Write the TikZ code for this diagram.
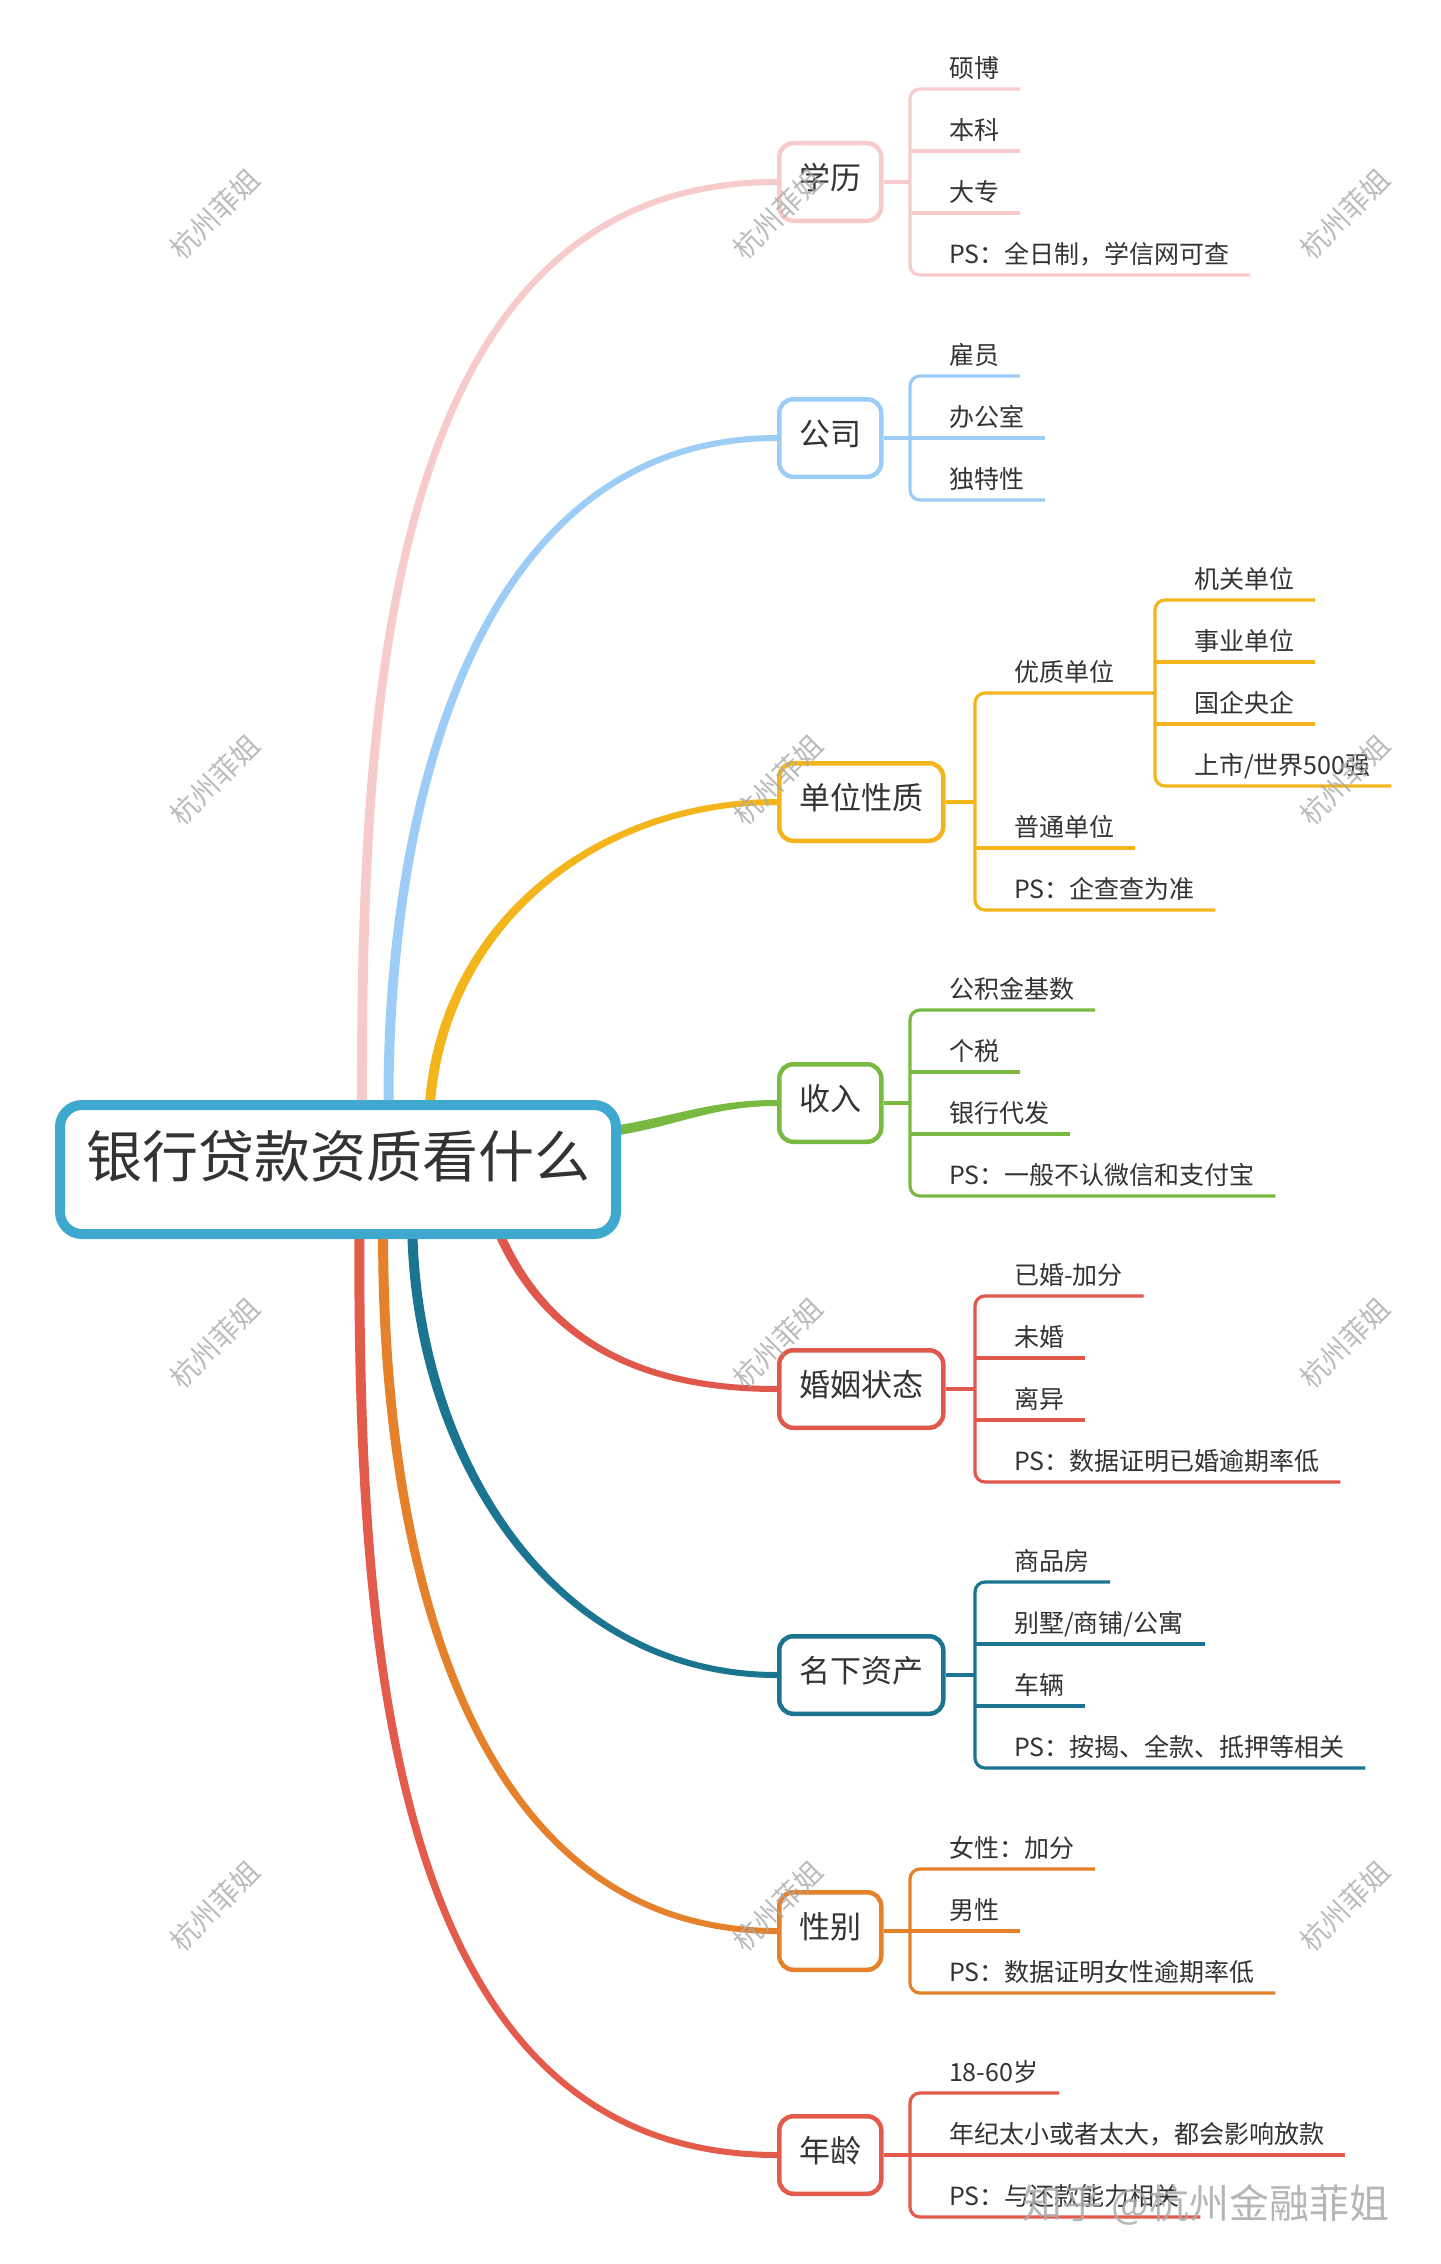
\documentclass[tikz,border=0pt]{standalone}
\usepackage{fontspec}
\setmainfont{Noto Sans CJK SC}
\definecolor{txt}{HTML}{333333}
\definecolor{rootc}{HTML}{3FA8CE}
\definecolor{c1}{HTML}{F8CBCB}
\definecolor{c2}{HTML}{9DCDF6}
\definecolor{c3}{HTML}{F4B41C}
\definecolor{c4}{HTML}{78B942}
\definecolor{c5}{HTML}{E0584B}
\definecolor{c6}{HTML}{1B7590}
\definecolor{c7}{HTML}{E5802B}
\definecolor{c8}{HTML}{E35B4B}
\definecolor{wm}{HTML}{AAAAAA}

\begin{document}
\begin{tikzpicture}[x=0.5pt, y=0.5pt,
    every node/.style={text=txt},
    root/.style={draw=rootc, line width=5pt, rounded corners=11pt, fill=white, minimum width=278pt, minimum height=64.5pt, inner sep=0pt, font=\fontsize{28}{34}\selectfont, text height=0.88em, text depth=0.12em},
    topic/.style={draw=#1, line width=2.25pt, rounded corners=7pt, fill=white, inner xsep=10pt, inner ysep=0pt, minimum height=38.75pt, font=\fontsize{15.5}{19}\selectfont, text height=0.88em, text depth=0.12em, anchor=west},
    leaf/.style={anchor=south west, inner xsep=10.5pt, inner ysep=4.5pt, outer sep=0pt, font=\fontsize{12.5}{15}\selectfont, text height=0.88em, text depth=0.12em},
    limb/.style={fill=#1},
    twig/.style={draw=#1, line width=1.6pt, rounded corners=5pt},
    wmark/.style={text=wm, rotate=45, font=\fontsize{14}{16}\selectfont, opacity=0.8}]
    \path[use as bounding box, fill=white] (0,0) rectangle (1440,-2264);

    \node[root] (root) at (338,-1169.5) {银行贷款资质看什么};

    \node[topic=c1] (edu) at (777,-182) {学历};
    \node[topic=c2] (firm) at (777,-438) {公司};
    \node[topic=c3] (unit) at (777,-802) {单位性质};
    \node[topic=c4] (pay) at (777,-1103) {收入};
    \node[topic=c5] (marry) at (777,-1389) {婚姻状态};
    \node[topic=c6] (asset) at (777,-1675) {名下资产};
    \node[topic=c7] (sex) at (777,-1931) {性别};
    \node[topic=c8] (age) at (777,-2155) {年龄};

    \fill[limb=c1] ([xshift=-2.5pt]root.71.7) to[out=90,in=180] ([yshift=1.5pt]edu.west) -- ([yshift=-1.5pt]edu.west) to[out=180,in=90] ([xshift=2.5pt]root.71.7) -- cycle;
    \fill[limb=c2] ([xshift=-2.5pt]root.54.8) to[out=90,in=180] ([yshift=1.5pt]firm.west) -- ([yshift=-1.5pt]firm.west) to[out=180,in=90] ([xshift=2.5pt]root.54.8) -- cycle;
    \fill[limb=c3] ([xshift=-2.5pt]root.37.4) to[out=85,in=180] ([yshift=1.5pt]unit.west) -- ([yshift=-1.5pt]unit.west) to[out=180,in=85] ([xshift=2.5pt]root.37.4) -- cycle;
    \fill[limb=c4] ([yshift=2.5pt]root.8) to[out=10,in=180] ([yshift=1.5pt]pay.west) -- ([yshift=-1.5pt]pay.west) to[out=180,in=10] ([yshift=-2.5pt]root.8) -- cycle;
    \fill[limb=c5] ([xshift=2.5pt]root.-23.5) to[out=-65,in=180] ([yshift=1.5pt]marry.west) -- ([yshift=-1.5pt]marry.west) to[out=180,in=-65] ([xshift=-2.5pt]root.-23.5) -- cycle;
    \fill[limb=c6] ([xshift=2.5pt]root.-43.2) to[out=-88,in=180] ([yshift=1.5pt]asset.west) -- ([yshift=-1.5pt]asset.west) to[out=180,in=-88] ([xshift=-2.5pt]root.-43.2) -- cycle;
    \fill[limb=c7] ([xshift=2.5pt]root.-57.1) to[out=-90,in=180] ([yshift=1.5pt]sex.west) -- ([yshift=-1.5pt]sex.west) to[out=180,in=-90] ([xshift=-2.5pt]root.-57.1) -- cycle;
    \fill[limb=c8] ([xshift=2.5pt]root.-73.9) to[out=-90,in=180] ([yshift=1.5pt]age.west) -- ([yshift=-1.5pt]age.west) to[out=180,in=-90] ([xshift=-2.5pt]root.-73.9) -- cycle;

    \coordinate (s1) at (910,-182);
    \node[leaf] (e1) at (928,-89) {硕博};
    \node[leaf] (e2) at (928,-151) {本科};
    \node[leaf] (e3) at (928,-213) {大专};
    \node[leaf] (e4) at (928,-275) {PS：全日制，学信网可查};
    \draw[twig=c1] (edu.east) -- (s1);
    \draw[twig=c1] (e1.south east) -- (e1.south -| s1) -- (e4.south -| s1) -- (e4.south east);
    \draw[twig=c1] (e2.south -| s1) -- (e2.south east);
    \draw[twig=c1] (e3.south -| s1) -- (e3.south east);

    \coordinate (s2) at (910,-438);
    \node[leaf] (f1) at (928,-376) {雇员};
    \node[leaf] (f2) at (928,-438) {办公室};
    \node[leaf] (f3) at (928,-500) {独特性};
    \draw[twig=c2] (firm.east) -- (s2);
    \draw[twig=c2] (f1.south east) -- (f1.south -| s2) -- (f3.south -| s2) -- (f3.south east);
    \draw[twig=c2] (f2.south -| s2) -- (f2.south east);

    \coordinate (s3) at (975,-802);
    \coordinate (t3) at (1155,-693);
    \node[leaf] (q1) at (993,-693) {优质单位};
    \node[leaf] (q2) at (993,-848) {普通单位};
    \node[leaf] (q3) at (993,-910) {PS：企查查为准};
    \node[leaf] (u1) at (1173,-600) {机关单位};
    \node[leaf] (u2) at (1173,-662) {事业单位};
    \node[leaf] (u3) at (1173,-724) {国企央企};
    \node[leaf] (u4) at (1173,-786) {上市/世界500强};
    \draw[twig=c3] (unit.east) -- (s3);
    \draw[twig=c3] (t3) -- (q1.south -| s3) -- (q3.south -| s3) -- (q3.south east);
    \draw[twig=c3] (q2.south -| s3) -- (q2.south east);
    \draw[twig=c3] (u1.south east) -- (u1.south -| t3) -- (u4.south -| t3) -- (u4.south east);
    \draw[twig=c3] (u2.south -| t3) -- (u2.south east);
    \draw[twig=c3] (u3.south -| t3) -- (u3.south east);

    \coordinate (s4) at (910,-1103);
    \node[leaf] (p1) at (928,-1010) {公积金基数};
    \node[leaf] (p2) at (928,-1072) {个税};
    \node[leaf] (p3) at (928,-1134) {银行代发};
    \node[leaf] (p4) at (928,-1196) {PS：一般不认微信和支付宝};
    \draw[twig=c4] (pay.east) -- (s4);
    \draw[twig=c4] (p1.south east) -- (p1.south -| s4) -- (p4.south -| s4) -- (p4.south east);
    \draw[twig=c4] (p2.south -| s4) -- (p2.south east);
    \draw[twig=c4] (p3.south -| s4) -- (p3.south east);

    \coordinate (s5) at (975,-1389);
    \node[leaf] (m1) at (993,-1296) {已婚-加分};
    \node[leaf] (m2) at (993,-1358) {未婚};
    \node[leaf] (m3) at (993,-1420) {离异};
    \node[leaf] (m4) at (993,-1482) {PS：数据证明已婚逾期率低};
    \draw[twig=c5] (marry.east) -- (s5);
    \draw[twig=c5] (m1.south east) -- (m1.south -| s5) -- (m4.south -| s5) -- (m4.south east);
    \draw[twig=c5] (m2.south -| s5) -- (m2.south east);
    \draw[twig=c5] (m3.south -| s5) -- (m3.south east);

    \coordinate (s6) at (975,-1675);
    \node[leaf] (a1) at (993,-1582) {商品房};
    \node[leaf] (a2) at (993,-1644) {别墅/商铺/公寓};
    \node[leaf] (a3) at (993,-1706) {车辆};
    \node[leaf] (a4) at (993,-1768) {PS：按揭、全款、抵押等相关};
    \draw[twig=c6] (asset.east) -- (s6);
    \draw[twig=c6] (a1.south east) -- (a1.south -| s6) -- (a4.south -| s6) -- (a4.south east);
    \draw[twig=c6] (a2.south -| s6) -- (a2.south east);
    \draw[twig=c6] (a3.south -| s6) -- (a3.south east);

    \coordinate (s7) at (910,-1931);
    \node[leaf] (g1) at (928,-1869) {女性：加分};
    \node[leaf] (g2) at (928,-1931) {男性};
    \node[leaf] (g3) at (928,-1993) {PS：数据证明女性逾期率低};
    \draw[twig=c7] (sex.east) -- (s7);
    \draw[twig=c7] (g1.south east) -- (g1.south -| s7) -- (g3.south -| s7) -- (g3.south east);
    \draw[twig=c7] (g2.south -| s7) -- (g2.south east);

    \coordinate (s8) at (910,-2155);
    \node[leaf] (y1) at (928,-2093) {18-60岁};
    \node[leaf] (y2) at (928,-2155) {年纪太小或者太大，都会影响放款};
    \node[leaf] (y3) at (928,-2217) {PS：与还款能力相关};
    \draw[twig=c8] (age.east) -- (s8);
    \draw[twig=c8] (y1.south east) -- (y1.south -| s8) -- (y3.south -| s8) -- (y3.south east);
    \draw[twig=c8] (y2.south -| s8) -- (y2.south east);

    \node[wmark] (w1) at (215,-214) {杭州菲姐};
    \node[wmark] (w2) at (778,-214) {杭州菲姐};
    \node[wmark] (w3) at (1345,-214) {杭州菲姐};
    \node[wmark] (w4) at (215,-780) {杭州菲姐};
    \node[wmark] (w5) at (778,-780) {杭州菲姐};
    \node[wmark] (w6) at (1345,-780) {杭州菲姐};
    \node[wmark] (w7) at (215,-1343) {杭州菲姐};
    \node[wmark] (w8) at (778,-1343) {杭州菲姐};
    \node[wmark] (w9) at (1345,-1343) {杭州菲姐};
    \node[wmark] (w10) at (215,-1906) {杭州菲姐};
    \node[wmark] (w11) at (778,-1906) {杭州菲姐};
    \node[wmark] (w12) at (1345,-1906) {杭州菲姐};
    \node[text=wm, opacity=0.85, font=\fontsize{20}{24}\selectfont] (w13) at (1206,-2205) {知乎 @杭州金融菲姐};
\end{tikzpicture}
\end{document}
